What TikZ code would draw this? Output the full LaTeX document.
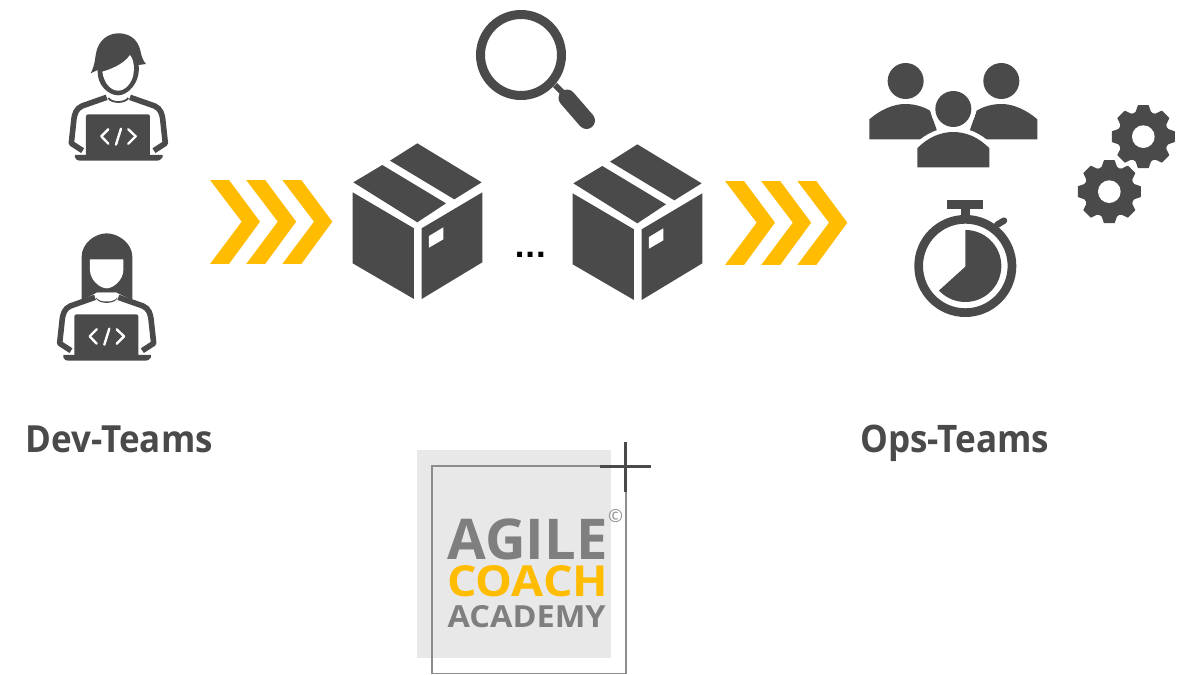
\documentclass[tikz,border=0pt]{standalone}
\usepackage{graphicx}
\usepackage{fontspec}
\setmainfont{Open Sans}
\newfontfamily\dotfont{DejaVu Sans}
\definecolor{ink}{HTML}{4A4A4A}
\definecolor{amber}{HTML}{FFBC00}
\definecolor{logogrey}{HTML}{7F7F7F}
\definecolor{framegrey}{HTML}{8C8C8C}
\definecolor{paneltint}{HTML}{E8E8E8}
\tikzset{
  inkfill/.style={fill=ink,draw=none},
  knock/.style={fill=white,draw=none},
  limb/.style={draw=ink,line width=5.6pt,line join=round,line cap=butt},
  codeglyph/.style={draw=white,line width=2.4pt,line cap=round,line join=round},
  chev/.style={fill=amber,draw=none},
  lbl/.style={inner sep=0pt,anchor=base west,text=ink,font=\bfseries},
  logotxt/.style={inner sep=0pt,anchor=base west},
}
\newcommand{\devbody}{%
  \draw[limb] (200,232) -- (126,258) .. controls (108,266) and (103,282) .. (101,305) -- (94,370) -- (128,392);
  \draw[limb] (270,232) -- (344,258) .. controls (362,266) and (367,282) .. (369,305) -- (376,370) -- (342,392);
  \draw[ink,line width=1.8pt] (205,234) .. controls (215,250) and (255,250) .. (265,234);
  \path[inkfill] (138,290) .. controls (138,285) and (140,283) .. (145,283) -- (323,283) .. controls (328,283) and (330,285) .. (330,290) -- (330,405) -- (368,405) -- (368,412) .. controls (362,420) and (358,422) .. (352,422) -- (120,422) .. controls (112,422) and (108,420) .. (105,412) -- (105,405) -- (138,405) -- cycle;
  \draw[codeglyph] (205,328) -- (184,349) -- (205,371);
  \draw[codeglyph] (243,326) -- (228,374);
  \draw[codeglyph] (265,328) -- (287,349) -- (265,371);
}
\newcommand{\parcel}{%
  \path[inkfill] (40,157) -- (127,105) -- (318,220) -- (232,277) -- cycle;
  \path[inkfill] (150,92) -- (232,40) -- (425,157) -- (343,208) -- cycle;
  \path[inkfill] (38,187) -- (222,295) -- (222,507) -- (38,400) -- cycle;
  \path[inkfill] (245,295) -- (427,187) -- (427,397) -- (245,507) -- cycle;
  \path[knock] (267,318) -- (310,292) -- (310,328) -- (267,353) -- cycle;
}
\newcommand{\chevrons}{%
  \foreach \k in {0,1,2}{
    \begin{scope}[shift={(\k*108.5,0)}]
    \path[chev] (30,30) -- (87,30) -- (180,155) -- (87,282) -- (30,282) -- (125,155) -- cycle;
    \end{scope}
  }
}
\newcommand{\gearshape}[2]{%
  \path[inkfill,shift={(#1,#2)},draw=ink,line width=1.2pt,line join=round]
    \foreach \k in {0,45,...,315}{
      \ifnum\k=0 (\k-16:77) \else -- (\k-16:77) \fi -- (\k-9:94) -- (\k+9:94) -- (\k+16:77) -- (\k+22.5:74)
    } -- cycle;
  \path[knock,shift={(#1,#2)}] (0,0) circle[radius=34];
}
\begin{document}
\begin{tikzpicture}[x=1pt,y=-1pt]
\useasboundingbox (0,0) rectangle (1200,675);
\fill[white] (0,0) rectangle (1200,675);

% Developer 1
\begin{scope}[shift={(40,20)},scale=0.3333]
  \devbody
  \path[inkfill] (152,160) .. controls (165,135) and (165,115) .. (168,100) .. controls (175,60) and (205,40) .. (235,40) .. controls (280,40) and (298,70) .. (303,100) .. controls (306,115) and (312,125) .. (318,132) -- (296,135) .. controls (302,190) and (262,226) .. (235,226) .. controls (205,226) and (170,195) .. (173,150) -- cycle;
  \path[knock] (187,155) .. controls (205,150) and (250,135) .. (270,105) .. controls (285,125) and (282,150) .. (280,165) .. controls (275,190) and (255,212) .. (235,212) .. controls (212,212) and (192,190) .. (187,155) -- cycle;
\end{scope}

% Developer 2
\begin{scope}[shift={(28.33,220)},scale=0.3333]
  \devbody
  \path[inkfill] (160,240) -- (160,110) .. controls (160,70) and (200,40) .. (235,40) .. controls (270,40) and (312,70) .. (312,110) -- (312,240) -- (265,218) -- (205,218) -- cycle;
  \path[knock] (185,118) -- (285,118) -- (285,150) .. controls (285,180) and (255,205) .. (235,205) .. controls (215,205) and (185,180) .. (185,150) -- cycle;
  \path[knock] (205,218) -- (265,218) -- (265,234) .. controls (255,248) and (215,248) .. (205,234) -- cycle;
\end{scope}

% Chevrons
\begin{scope}[shift={(200,170)},scale=0.3333]
  \chevrons
\end{scope}
\begin{scope}[shift={(715,171)},scale=0.3333]
  \chevrons
\end{scope}

% Parcels
\begin{scope}[shift={(340,130)},scale=0.3333]
  \parcel
\end{scope}
\begin{scope}[shift={(560,131)},scale=0.3333]
  \parcel
\end{scope}

% Ellipsis
\node[inner sep=0pt,anchor=base,text=black] (dots) at (530.3,257.6) {\dotfont\bfseries\fontsize{28}{28}\selectfont ...};

% Magnifier
\draw[ink,line width=9pt] (521,55) circle[radius=40.5];
\draw[ink,line width=6pt] (555,85) -- (565,95);
\draw[ink,line width=17pt,line cap=round] (567,98) -- (586.5,120.5);

% Team
\begin{scope}[shift={(860,50)},scale=0.3333]
  \path[inkfill] (137,93) circle[radius=54];
  \path[inkfill] (424,93) circle[radius=54];
  \path[inkfill] (28,268) -- (28,208) .. controls (60,180) and (100,162) .. (135,162) .. controls (165,162) and (190,170) .. (210,182) -- (240,268) -- cycle;
  \path[inkfill] (532,268) -- (532,208) .. controls (500,180) and (460,162) .. (425,162) .. controls (395,162) and (370,170) .. (350,182) -- (320,268) -- cycle;
  \path[fill=white,draw=white,line width=9.2pt] (280,177) circle[radius=54];
  \path[fill=white,draw=white,line width=9.2pt] (172,352) -- (172,295) .. controls (205,260) and (245,246) .. (280,246) .. controls (315,246) and (355,260) .. (388,295) -- (388,352) -- cycle;
  \path[inkfill] (280,177) circle[radius=54];
  \path[inkfill] (172,352) -- (172,295) .. controls (205,260) and (245,246) .. (280,246) .. controls (315,246) and (355,260) .. (388,295) -- (388,352) -- cycle;
  % Stopwatch
  \path[inkfill] (262,450) rectangle (370,477);
  \path[inkfill] (303,477) rectangle (330,505);
  \draw[ink,line width=6.5pt,line cap=round] (412,524) -- (432,512);
  \draw[ink,line width=8.7pt] (316,648) circle[radius=140];
  \path[inkfill] (316,650) -- plot[domain=90:-137,samples=70] ({316+108*cos(\x)},{648-108*sin(\x)}) -- cycle;
  % Gears
  \gearshape{850}{260}
  \gearshape{748}{425}
\end{scope}

% Labels
\node[lbl] (dev) at (25.5,452.7) {\resizebox{187pt}{26.7pt}{Dev-Teams}};
\node[lbl] (ops) at (860,452.7) {\resizebox{189pt}{27.5pt}{Ops-Teams}};

% Logo
\fill[paneltint] (417.3,450) rectangle (611,657.7);
\draw[framegrey,line width=1.6pt] (431.7,465.7) rectangle (625.7,673.3);
\draw[ink,line width=3pt] (600,466) -- (650.7,466);
\draw[ink,line width=3pt] (625.7,441.7) -- (625.7,491.7);
\node[logotxt,text=logogrey] (agile) at (447.5,559) {\resizebox{160pt}{40.7pt}{\bfseries AGILE}};
\node[logotxt,text=amber] (coach) at (447,596.7) {\resizebox{161pt}{31pt}{\bfseries COACH}};
\node[logotxt,text=logogrey] (academy) at (447.5,627.7) {\resizebox{158pt}{22pt}{\bfseries ACADEMY}};
\node[inner sep=0pt,text=framegrey] (copyr) at (615.5,516) {\fontsize{18}{18}\selectfont ©};
\end{tikzpicture}
\end{document}
